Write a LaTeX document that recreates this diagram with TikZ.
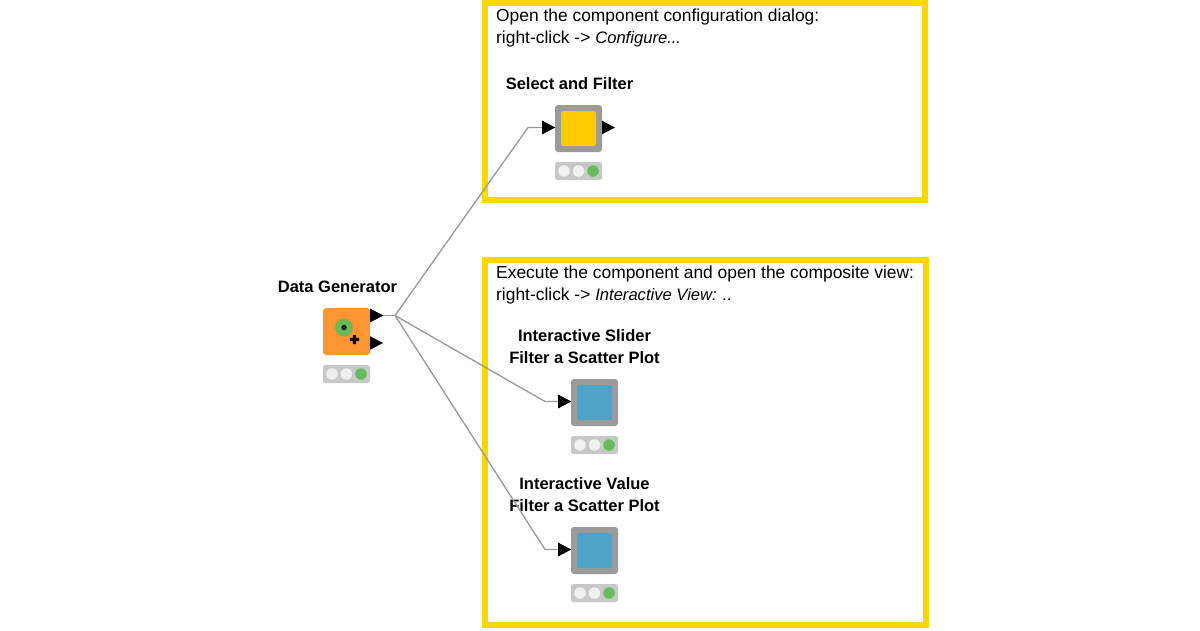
\documentclass[tikz,border=0pt]{standalone}
\usepackage{fontspec}
\setmainfont{Liberation Sans}
\usetikzlibrary{calc}
\definecolor{kyellow}{HTML}{FFD700}
\definecolor{kgray}{HTML}{9B9B9B}
\definecolor{kwire}{HTML}{999999}
\definecolor{kbar}{HTML}{C8C8C8}
\definecolor{klight}{HTML}{F0F0F0}
\definecolor{kgreen}{HTML}{66BB5A}
\definecolor{korange}{HTML}{FF9632}
\definecolor{kgold}{HTML}{FFCC00}
\definecolor{kblue}{HTML}{4EA3C6}
\definecolor{kring}{HTML}{8FA84A}
\tikzset{
  frame/.style={draw=kyellow,line width=6pt},
  note/.style={anchor=base west,inner sep=0pt,font=\fontsize{17.4}{20}\selectfont},
  title/.style={anchor=base,inner sep=0pt,font=\fontsize{16.5}{18}\selectfont\bfseries},
  body/.style={rectangle,rounded corners=3pt,minimum size=47pt,inner sep=0pt,fill=#1},
  core/.style={rectangle,rounded corners=2.5pt,minimum size=35pt,inner sep=0pt,fill=#1},
  bar/.style={rectangle,rounded corners=2.5pt,minimum width=47pt,minimum height=18pt,inner sep=0pt,fill=kbar},
  lamp/.style={circle,minimum size=11.5pt,inner sep=0pt,fill=#1},
  wire/.style={draw=kwire,line width=1.3pt},
  port/.style={fill=black},
}
\newcommand{\portat}[2]{\fill[port] ($(#1)+(-6.5,-6.8)$) -- ($(#1)+(6.5,0)$) -- ($(#1)+(-6.5,6.8)$) -- cycle;\coordinate (#2) at (#1);}
\newcommand{\knode}[4]{%
  \node[body=#4] (#1) at (#2,#3) {};
}
\newcommand{\status}[3]{%
  \node[bar] (#1) at (#2,#3) {};
  \node[lamp=klight] (#1a) at (#2-14.5,#3) {};
  \node[lamp=klight] (#1b) at (#2,#3) {};
  \node[lamp=kgreen] (#1c) at (#2+14.5,#3) {};
}
\newcommand{\ital}[1]{{\fontsize{16.6}{20}\selectfont\textit{#1}}}
\begin{document}
\begin{tikzpicture}[x=1pt,y=-1pt]
\useasboundingbox (0,0) rectangle (1200,630);
\fill[white] (0,0) rectangle (1200,630);
% frames
\node[frame,rectangle,minimum width=440pt,minimum height=197pt,inner sep=0pt] (topframe) at (705,101) {};
\node[frame,rectangle,minimum width=441pt,minimum height=365pt,inner sep=0pt] (botframe) at (705.5,442.5) {};
% notes
\node[note] (n1) at (496,21) {Open the component configuration dialog:};
\node[note] (n2) at (496,43) {right-click -> \ital{Configure...}};
\node[note] (n3) at (496,278) {Execute the component and open the composite view:};
\node[note] (n4) at (496,300) {right-click -> \ital{Interactive View: ..}};
% titles
\node[title] (t1) at (337.5,292) {Data Generator};
\node[title] (t2) at (569.5,89.5) {Select and Filter};
\node[title] (t3) at (584.5,341) {Interactive Slider};
\node[title] (t4) at (584.5,363) {Filter a Scatter Plot};
\node[title] (t5) at (584.5,489) {Interactive Value};
\node[title] (t6) at (584.5,511) {Filter a Scatter Plot};
% Data Generator
\node[body=korange] (dg) at (346.5,331.5) {};
\node[circle,minimum size=17pt,inner sep=0pt,fill=kgreen,draw=kring,line width=1pt] (dgc) at (344,327.5) {};
\node[circle,minimum size=5.5pt,inner sep=0pt,fill=black!85] (dgd) at (344,327.5) {};
\node[inner sep=0pt] (dgp) at (354.5,339.5) {\tikz[x=1pt,y=1pt]{\fill[black,rounded corners=.5pt] (-1.7,-4.6) rectangle (1.7,4.6);\fill[black,rounded corners=.5pt] (-4.6,-1.7) rectangle (4.6,1.7);}};
\status{dgs}{346.5}{374}
\portat{376.5,315.5}{dgo1}
\portat{376.5,343}{dgo2}
% Select and Filter
\knode{sf}{578.5}{128.5}{kgray}
\node[core=kgold] (sfc) at (sf) {};
\status{sfs}{578.5}{171}
\portat{548.5,127.5}{sfi}
\portat{608.5,127.5}{sfo}
% Slider
\knode{sl}{594.5}{402.5}{kgray}
\node[core=kblue] (slc) at (sl) {};
\status{sls}{594.5}{445}
\portat{564.5,401.5}{sli}
% Value
\knode{vf}{594.5}{550.5}{kgray}
\node[core=kblue] (vfc) at (vf) {};
\status{vfs}{594.5}{593}
\portat{564.5,549.5}{vfi}
% wires
\coordinate (hub) at (395,315.5);
\coordinate (b1) at (528,127.5);
\coordinate (b2) at (545,401.5);
\coordinate (b3) at (545,549.5);
\draw[wire] (dgo1) -- (hub);
\draw[wire] (hub) -- (b1) -- (sfi);
\draw[wire] (hub) -- (b2) -- (sli);
\draw[wire] (hub) -- (b3) -- (vfi);
\portat{376.5,315.5}{dgo1x}
\portat{548.5,127.5}{sfix}
\portat{564.5,401.5}{slix}
\portat{564.5,549.5}{vfix}
\end{tikzpicture}
\end{document}
